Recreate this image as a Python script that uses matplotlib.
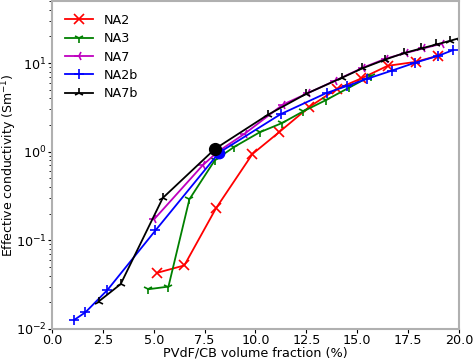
import matplotlib
matplotlib.use("Agg")
import matplotlib.pyplot as plt

# volume fraction (%) and effective conductivity (S/m) per sample
na2_x = [5.18, 6.5, 8.06, 9.85, 11.15, 12.65, 14.0, 15.2, 16.5, 17.87, 18.98]
na2_y = [0.043, 0.052, 0.23, 0.94, 1.65, 3.2, 5.1, 6.7, 9.3, 10.3, 12.1]

na3_x = [4.73, 5.72, 6.75, 8.0, 8.95, 10.2, 11.3, 12.35, 13.45, 14.62, 15.7]
na3_y = [0.028, 0.030, 0.29, 0.80, 1.13, 1.65, 2.1, 2.85, 3.8, 5.3, 7.2]

na7_x = [5.01, 7.4, 8.15, 9.48, 11.35, 12.6, 13.9, 15.3, 16.4, 17.4, 18.25, 19.15]
na7_y = [0.172, 0.70, 1.0, 1.6, 3.4, 4.6, 6.3, 8.9, 11.2, 13.0, 14.6, 16.5]

na2b_x = [1.08, 1.64, 2.72, 5.08, 8.2, 11.24, 13.5, 14.5, 15.46, 16.7, 17.86, 19.0, 19.72]
na2b_y = [0.0126, 0.0154, 0.0275, 0.129, 0.97, 2.65, 4.6, 5.5, 6.6, 8.2, 10.1, 12.1, 14.0]

na7b_x = [2.28, 3.37, 5.44, 8.0, 10.6, 12.5, 14.24, 15.25, 16.36, 17.28, 18.15, 18.9, 19.56, 20.1]
na7b_y = [0.0203, 0.032, 0.30, 1.07, 2.6, 4.5, 6.8, 8.7, 10.9, 12.9, 14.6, 16.2, 17.8, 19.3]

# percolation points
perc_x = [8.0, 8.2]
perc_y = [1.07, 0.97]

fs = 9.2

fig = plt.figure(figsize=(4.74, 3.61), dpi=100)
ax = fig.add_axes([0.110, 0.089, 0.858, 0.908])

kw = dict(ms=7, mew=1.2, lw=1.3)
ax.plot(na2_x, na2_y, color="r", marker="x", label="NA2", **kw)
ax.plot(na3_x, na3_y, color="g", marker="1", label="NA3", **kw)
ax.plot(na7_x, na7_y, color="m", marker="3", label="NA7", **kw)
ax.plot(na2b_x, na2b_y, color="b", marker="+", label="NA2b", **kw)
ax.plot(na7b_x, na7b_y, color="k", marker="2", label="NA7b", **kw)
ax.plot(perc_x[1], perc_y[1], "o", color="b", ms=7.5)
ax.plot(perc_x[0], perc_y[0], "o", color="k", ms=8.5)

ax.set_yscale("log")
ax.set_xlim(0, 20)
ax.set_ylim(0.01, 50)
ax.set_xticks([0, 2.5, 5, 7.5, 10, 12.5, 15, 17.5, 20])
ax.set_xticklabels(["0.0", "2.5", "5.0", "7.5", "10.0", "12.5", "15.0", "17.5", "20.0"])
ax.tick_params(labelsize=fs, pad=1, length=3)
ax.tick_params(which="minor", length=2)
for s in ax.spines.values():
    s.set_color("#b0b0b0")
    s.set_linewidth(1.5)

ax.set_xlabel("PVdF/CB volume fraction (%)", fontsize=fs, labelpad=-1)
ax.set_ylabel("Effective conductivity (Sm$^{-1}$)", fontsize=9)
ax.yaxis.set_label_coords(-0.082, 0.5)
ax.legend(loc="upper left", frameon=False, fontsize=fs, handlelength=2.2,
          labelspacing=0.42, borderaxespad=0.6)

plt.savefig("out.png", dpi=100)
